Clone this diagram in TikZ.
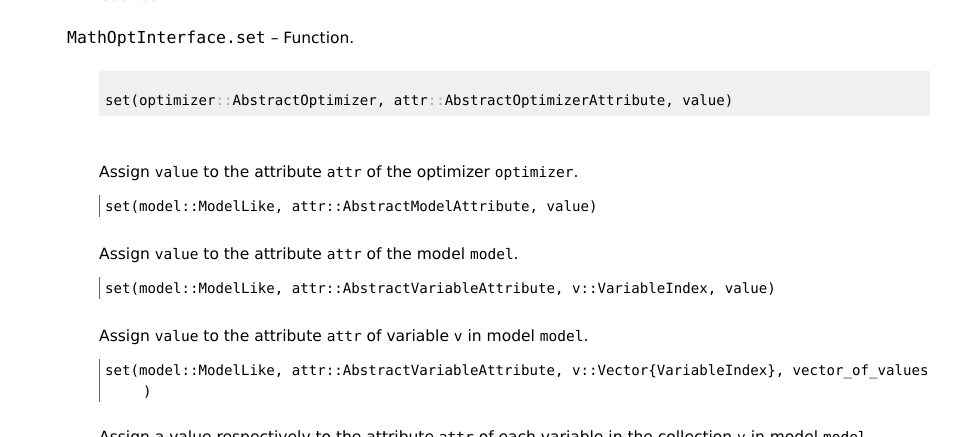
\documentclass[tikz,border=0pt]{standalone}
\usepackage{fontspec}
\setmainfont{DejaVu Sans}
\setmonofont{DejaVu Sans Mono}
\begin{document}
\begin{tikzpicture}[x=1pt,y=-1pt,
  body/.style={anchor=base west,inner sep=0pt,font=\fontsize{15.5}{18}\selectfont},
  code/.style={anchor=base west,inner sep=0pt,font=\ttfamily\fontsize{14.1}{17}\selectfont},
  bar/.style={draw=black!60,line width=0.8pt}]
\useasboundingbox (0,0) rectangle (968,436);
\clip (0,0) rectangle (968,436);
\newcommand{\cc}{\textcolor{black!35}{::}}
\newcommand{\ic}[1]{{\ttfamily\fontsize{14.5}{17}\selectfont #1}}
\node[code,text=violet!70,font=\ttfamily\fontsize{16}{18}\selectfont] (src) at (100,1) {Source};
\node[body] (head) at (67,44) {{\ttfamily\fontsize{16.5}{18}\selectfont MathOptInterface.set} – Function.};
\fill[black!6] (99,71) rectangle (930,116);
\node[code] (c1) at (105,105) {set(optimizer\cc AbstractOptimizer, attr\cc AbstractOptimizerAttribute, value)};
\node[body] (t1) at (99,177) {Assign \ic{value} to the attribute \ic{attr} of the optimizer \ic{optimizer}.};
\draw[bar] (99,195) -- (99,217);
\node[code] (c2) at (105,211) {set(model::ModelLike, attr::AbstractModelAttribute, value)};
\node[body] (t2) at (99,259) {Assign \ic{value} to the attribute \ic{attr} of the model \ic{model}.};
\draw[bar] (99,277) -- (99,299);
\node[code] (c3) at (105,293) {set(model::ModelLike, attr::AbstractVariableAttribute, v::VariableIndex, value)};
\node[body] (t3) at (99,341) {Assign \ic{value} to the attribute \ic{attr} of variable \ic{v} in model \ic{model}.};
\draw[bar] (99,359) -- (99,402);
\node[code] (c4) at (105,375) {set(model::ModelLike, attr::AbstractVariableAttribute, v::Vector\{VariableIndex\}, vector\_of\_values};
\node[code] (c5) at (143,396) {)};
\node[body] (t4) at (99,442) {Assign a value respectively to the attribute \ic{attr} of each variable in the collection \ic{v} in model \ic{model}.};
\end{tikzpicture}
\end{document}
